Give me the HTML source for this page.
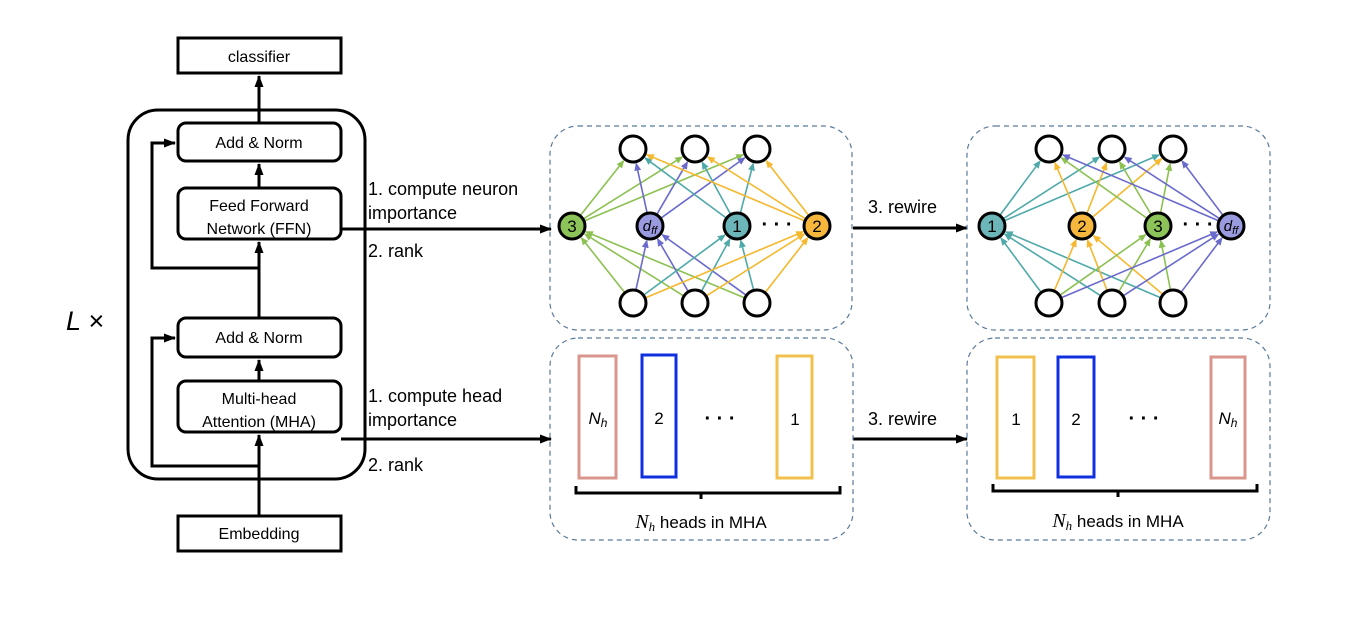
<!DOCTYPE html>
<html><head><meta charset="utf-8"><style>
html,body{margin:0;padding:0;background:#fff;}
svg{display:block;}
text{font-family:"Liberation Sans",sans-serif;}
</style></head><body>
<svg id="s" width="1350" height="628" viewBox="0 0 1350 628" xmlns="http://www.w3.org/2000/svg">
<defs>
<marker id="ah" markerWidth="12" markerHeight="12" refX="11" refY="6" orient="auto" markerUnits="userSpaceOnUse"><path d="M0,1.5 L12,6 L0,10.5 Z" fill="#000"/></marker>
<marker id="mg" markerWidth="8" markerHeight="8" refX="7" refY="4" orient="auto" markerUnits="userSpaceOnUse"><path d="M0,0.5 L8,4 L0,7.5 Z" fill="#8cc152"/></marker>
<marker id="mp" markerWidth="8" markerHeight="8" refX="7" refY="4" orient="auto" markerUnits="userSpaceOnUse"><path d="M0,0.5 L8,4 L0,7.5 Z" fill="#6a6acd"/></marker>
<marker id="mt" markerWidth="8" markerHeight="8" refX="7" refY="4" orient="auto" markerUnits="userSpaceOnUse"><path d="M0,0.5 L8,4 L0,7.5 Z" fill="#4fa9a9"/></marker>
<marker id="mo" markerWidth="8" markerHeight="8" refX="7" refY="4" orient="auto" markerUnits="userSpaceOnUse"><path d="M0,0.5 L8,4 L0,7.5 Z" fill="#f5b82e"/></marker>
</defs>

<g fill="none" stroke="#000" stroke-width="3">
<rect x="178" y="38" width="163" height="35"/>
<rect x="178" y="516" width="163" height="35"/>
<rect x="128" y="110" width="237" height="369" rx="30"/>
<rect x="178" y="123" width="163" height="38" rx="8"/>
<rect x="178" y="188" width="163" height="51" rx="8"/>
<rect x="178" y="318" width="163" height="39" rx="8"/>
<rect x="178" y="381" width="163" height="51" rx="8"/>
<line x1="259" y1="123" x2="259" y2="76" marker-end="url(#ah)"/>
<line x1="259" y1="188" x2="259" y2="164" marker-end="url(#ah)"/>
<line x1="259" y1="318" x2="259" y2="242" marker-end="url(#ah)"/>
<line x1="259" y1="381" x2="259" y2="360" marker-end="url(#ah)"/>
<line x1="259" y1="516" x2="259" y2="435" marker-end="url(#ah)"/>
<polyline points="259,268 152,268 152,143 175,143" marker-end="url(#ah)"/>
<polyline points="259,466 152,466 152,338 175,338" marker-end="url(#ah)"/>
<line x1="341" y1="229" x2="551" y2="229" marker-end="url(#ah)"/>
<line x1="341" y1="439" x2="551" y2="439" marker-end="url(#ah)"/>
<line x1="853" y1="228" x2="967" y2="228" marker-end="url(#ah)"/>
<line x1="853" y1="439" x2="967" y2="439" marker-end="url(#ah)"/>
</g>
<g font-size="16" text-anchor="middle" fill="#000">
<text x="259" y="62">classifier</text>
<text x="259" y="148">Add &amp; Norm</text>
<text x="259" y="211">Feed Forward</text>
<text x="259" y="234">Network (FFN)</text>
<text x="259" y="343">Add &amp; Norm</text>
<text x="259" y="404">Multi-head</text>
<text x="259" y="427">Attention (MHA)</text>
<text x="259" y="539">Embedding</text>
</g>
<text x="66" y="330" font-size="27" font-family="Liberation Serif,serif"><tspan font-style="italic">L</tspan> ×</text>
<g font-size="18" fill="#000">
<text x="368" y="195">1. compute neuron</text>
<text x="368" y="219">importance</text>
<text x="368" y="257">2. rank</text>
<text x="368" y="402">1. compute head</text>
<text x="368" y="426">importance</text>
<text x="368" y="471">2. rank</text>
<text x="868" y="213">3. rewire</text>
<text x="868" y="425">3. rewire</text>
</g>

<g fill="none" stroke="#5a7a9a" stroke-width="1.2" stroke-dasharray="5,4">
<rect x="550" y="126" width="302" height="204" rx="28"/>
<rect x="967" y="126" width="303" height="204" rx="28"/>
<rect x="550" y="338" width="303" height="202" rx="28"/>
<rect x="967" y="338" width="303" height="202" rx="28"/>
</g>

<g id="edges" stroke-width="1.6"></g>
<g id="nodes" stroke="#000" stroke-width="3"></g>
<g font-size="17" text-anchor="middle" fill="#000">
<text x="572" y="232">3</text>
<text x="650" y="231" font-family="Liberation Serif,serif" font-style="italic" font-size="15">d<tspan font-size="11" dy="3">ff</tspan></text>
<text x="737" y="232">1</text>
<text x="817" y="232">2</text>
<text x="777" y="231" font-size="20" font-weight="bold">· · ·</text>
<text x="992" y="232">1</text>
<text x="1082" y="232">2</text>
<text x="1158" y="232">3</text>
<text x="1231" y="231" font-family="Liberation Serif,serif" font-style="italic" font-size="15">d<tspan font-size="11" dy="3">ff</tspan></text>
<text x="1198" y="231" font-size="20" font-weight="bold">· · ·</text>
</g>

<g fill="none" stroke-width="3">
<rect x="579" y="356" width="37" height="122" stroke="#d9958e"/>
<rect x="642" y="355" width="34" height="122" stroke="#1030e0"/>
<rect x="777" y="356" width="35" height="122" stroke="#f2c04c"/>
<rect x="997" y="357" width="37" height="121" stroke="#f2c04c"/>
<rect x="1058" y="357" width="36" height="120" stroke="#1030e0"/>
<rect x="1211" y="357" width="34" height="121" stroke="#d9958e"/>
<path d="M576,486 v7 h264 v-7 M701,493 v6" stroke="#000"/>
<path d="M993,484 v7 h264 v-7 M1118,491 v6" stroke="#000"/>
</g>
<g font-size="17" text-anchor="middle" fill="#000">
<text x="598" y="424" font-family="Liberation Serif,serif" font-style="italic">N<tspan font-size="12" dy="3">h</tspan></text>
<text x="659" y="424">2</text>
<text x="795" y="425">1</text>
<text x="720" y="425" font-size="20" font-weight="bold">· · ·</text>
<text x="1016" y="425">1</text>
<text x="1076" y="425">2</text>
<text x="1228" y="424" font-family="Liberation Serif,serif" font-style="italic">N<tspan font-size="12" dy="3">h</tspan></text>
<text x="1144" y="425" font-size="20" font-weight="bold">· · ·</text>
<text x="701" y="528"><tspan font-family="Liberation Serif,serif" font-style="italic" font-size="20">N<tspan font-size="13" dy="3">h</tspan></tspan><tspan dy="-3"> heads in MHA</tspan></text>
<text x="1118" y="527"><tspan font-family="Liberation Serif,serif" font-style="italic" font-size="20">N<tspan font-size="13" dy="3">h</tspan></tspan><tspan dy="-3"> heads in MHA</tspan></text>
</g>

<script>
var NS="http://www.w3.org/2000/svg";
var col={g:["#8cc152","#8dc45a","mg"],p:["#6a6acd","#9a9ae0","mp"],t:["#4fa9a9","#6cb6ba","mt"],o:["#f5b82e","#f6b73c","mo"]};
var panels=[
 {top:[633,695,757],mid:[[572,"g"],[650,"p"],[737,"t"],[817,"o"]]},
 {top:[1049,1112,1173],mid:[[992,"t"],[1082,"o"],[1158,"g"],[1231,"p"]]}
];
var E=document.getElementById("edges"),N=document.getElementById("nodes");
var TY=149,MY=226,BY=303,R=14;
function ln(x1,y1,x2,y2,c){
 var dx=x2-x1,dy=y2-y1,d=Math.sqrt(dx*dx+dy*dy);
 var sx=x1+dx/d*R,sy=y1+dy/d*R,ex=x2-dx/d*(R+1),ey=y2-dy/d*(R+1);
 var l=document.createElementNS(NS,"line");
 l.setAttribute("x1",sx);l.setAttribute("y1",sy);l.setAttribute("x2",ex);l.setAttribute("y2",ey);
 l.setAttribute("stroke",col[c][0]);l.setAttribute("marker-end","url(#"+col[c][2]+")");E.appendChild(l);
}
function circ(x,y,f){var c=document.createElementNS(NS,"circle");c.setAttribute("cx",x);c.setAttribute("cy",y);c.setAttribute("r",13);c.setAttribute("fill",f);N.appendChild(c);}
panels.forEach(function(p){
 p.mid.forEach(function(m){
  p.top.forEach(function(tx){ln(m[0],MY,tx,TY,m[1]);});
  p.top.forEach(function(bx){ln(bx,BY,m[0],MY,m[1]);});
 });
 p.top.forEach(function(x){circ(x,TY,"#fff");circ(x,BY,"#fff");});
 p.mid.forEach(function(m){circ(m[0],MY,col[m[1]][1]);});
});
</script>
</svg>
</body></html>
